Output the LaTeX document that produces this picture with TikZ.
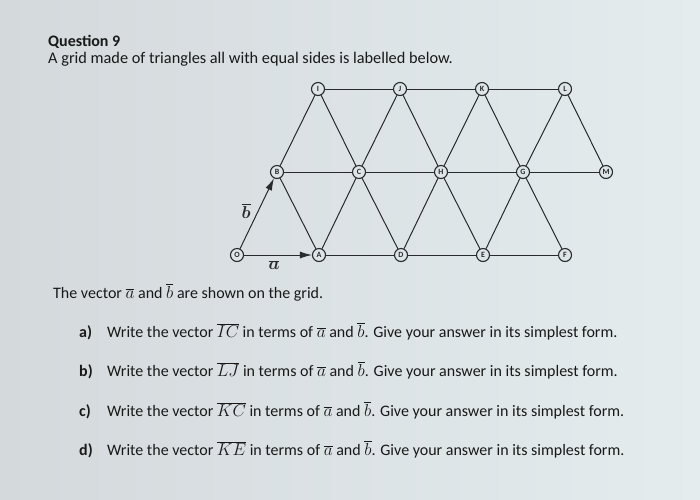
\documentclass[tikz,border=0pt]{standalone}
\usepackage{bm}
\usepackage{fontspec}
\setmainfont{Carlito}
\usetikzlibrary{arrows.meta}
\definecolor{bgL}{RGB}{212,217,220}
\definecolor{bgR}{RGB}{228,236,238}
\definecolor{bgc}{RGB}{222,229,231}
\definecolor{ln}{RGB}{40,42,44}
\begin{document}
\begin{tikzpicture}[x=1pt,y=-1pt,
  vtx/.style={circle,draw=ln,line width=1.1pt,fill=bgc,inner sep=0pt,minimum size=13pt,text=ln,font=\fontsize{8}{8}\selectfont\bfseries},
  edge/.style={draw=ln,line width=1pt},
  vec/.style={edge,-{Latex[length=12pt,width=7pt]}},
  txt/.style={anchor=base west,inner sep=0pt,text=black!90,font=\fontsize{16}{19}\selectfont},
  btxt/.style={txt,font=\fontsize{16}{19}\selectfont\bfseries},
  lbl/.style={inner sep=0pt,text=ln,font=\fontsize{16}{16}\selectfont}]
\shade[left color=bgL,right color=bgR] (0,0) rectangle (700,499);
\useasboundingbox (0,0) rectangle (700,499);
% vertices
\node[vtx] (O) at (237,255) {O};
\node[vtx] (A) at (319,255) {A};
\node[vtx] (D) at (401,255) {D};
\node[vtx] (E) at (483,255) {E};
\node[vtx] (F) at (565,255) {F};
\node[vtx] (B) at (277,172) {B};
\node[vtx] (C) at (359,172) {C};
\node[vtx] (H) at (441,172) {H};
\node[vtx] (G) at (523,172) {G};
\node[vtx] (M) at (606,172) {M};
\node[vtx] (I) at (318,89) {I};
\node[vtx] (J) at (400,89) {J};
\node[vtx] (K) at (482,89) {K};
\node[vtx] (L) at (565,89) {L};
% edges
\draw[vec] (O) -- (A);
\draw[vec] (O) -- (B);
\draw[edge] (A) -- (D) -- (E) -- (F);
\draw[edge] (B) -- (C) -- (H) -- (G) -- (M);
\draw[edge] (I) -- (J) -- (K) -- (L);
\draw[edge] (B) -- (A);
\draw[edge] (B) -- (I);
\draw[edge] (A) -- (C);
\draw[edge] (C) -- (I);
\draw[edge] (C) -- (D);
\draw[edge] (C) -- (J);
\draw[edge] (D) -- (H);
\draw[edge] (H) -- (J);
\draw[edge] (H) -- (E);
\draw[edge] (H) -- (K);
\draw[edge] (E) -- (G);
\draw[edge] (G) -- (K);
\draw[edge] (G) -- (F);
\draw[edge] (G) -- (L);
\draw[edge] (L) -- (M);
% vector labels
\node[lbl] (bl) at (246,211) {$\bm{\overline{b}}$};
\node[lbl] (al) at (274,265) {$\bm{\overline{a}}$};
% text
\node[btxt] (q) at (48,46) {Question 9};
\node[txt,font=\fontsize{16.3}{19}\selectfont] (intro) at (48,63) {A grid made of triangles all with equal sides is labelled below.};
\node[txt] (tv) at (53,298) {The vector $\overline{a}$ and $\overline{b}$ are shown on the grid.};
\node[btxt] (la) at (79,337) {a)};
\node[txt] (qa) at (107,337) {Write the vector $\overline{IC}$ in terms of $\overline{a}$ and $\overline{b}$. Give your answer in its simplest form.};
\node[btxt] (lb) at (79,376) {b)};
\node[txt] (qb) at (107,376) {Write the vector $\overline{LJ}$ in terms of $\overline{a}$ and $\overline{b}$. Give your answer in its simplest form.};
\node[btxt] (lc) at (79,416) {c)};
\node[txt] (qc) at (107,416) {Write the vector $\overline{KC}$ in terms of $\overline{a}$ and $\overline{b}$. Give your answer in its simplest form.};
\node[btxt] (ld) at (79,455) {d)};
\node[txt] (qd) at (107,455) {Write the vector $\overline{KE}$ in terms of $\overline{a}$ and $\overline{b}$. Give your answer in its simplest form.};
\end{tikzpicture}
\end{document}
